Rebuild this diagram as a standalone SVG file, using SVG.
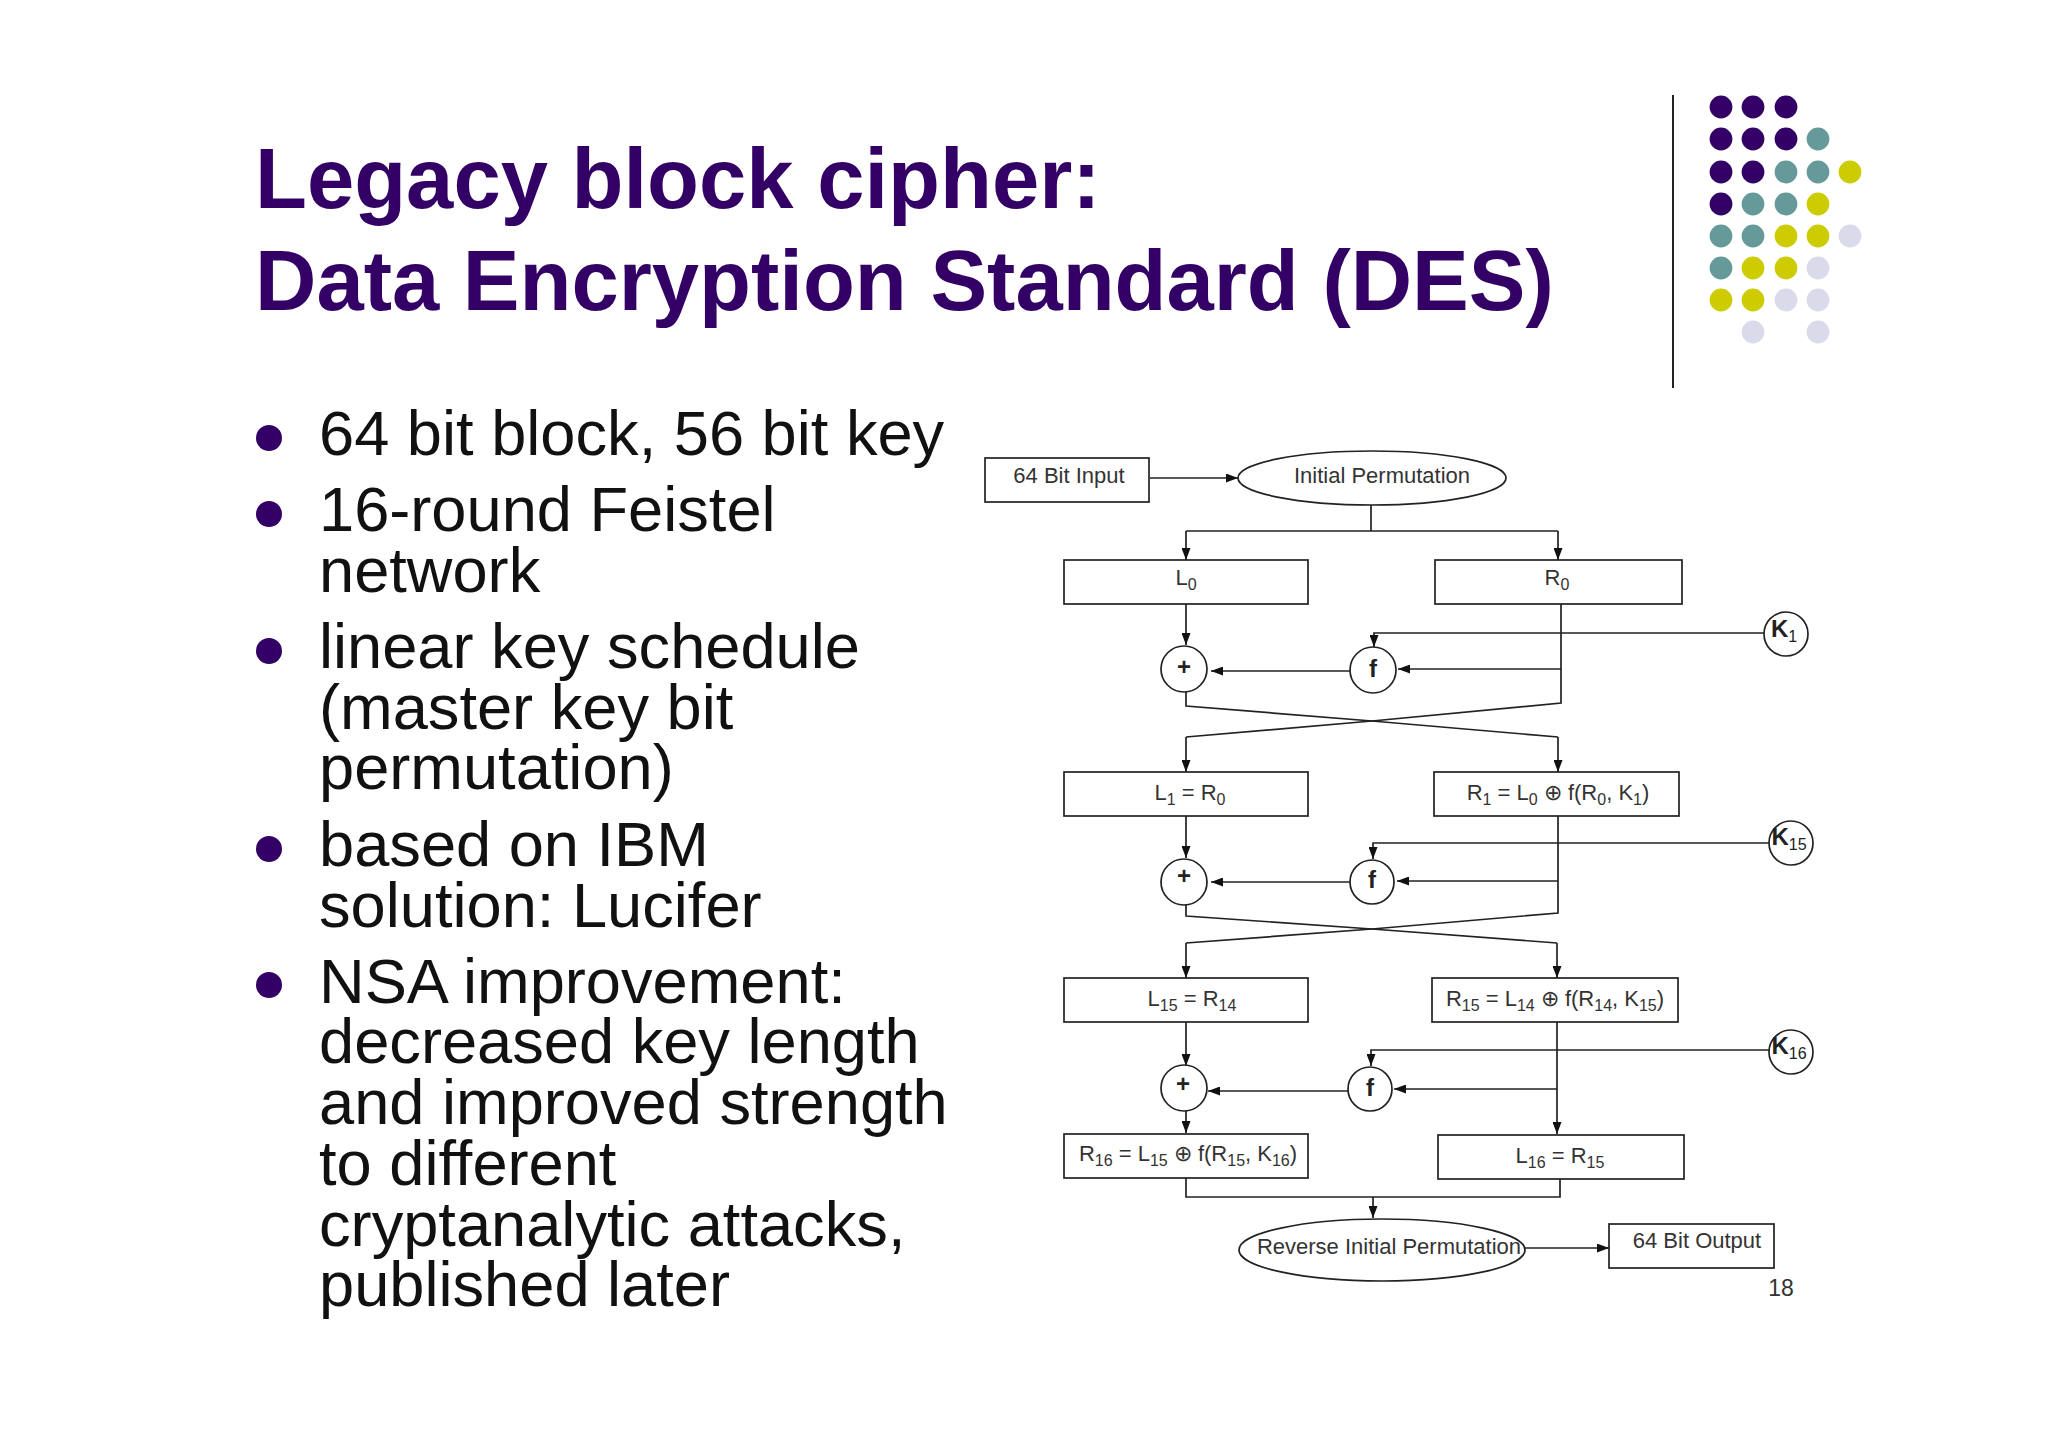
<svg xmlns="http://www.w3.org/2000/svg" width="2048" height="1447" viewBox="0 0 2048 1447">
<style>
.title{font:bold 85px "Liberation Sans",Arial,sans-serif;fill:#330066}
.body{font:63.2px "Liberation Sans",Arial,sans-serif;fill:#111}
.bul{fill:#330066}
.n{fill:#fff;stroke:#222;stroke-width:1.7}
.c{fill:none;stroke:#222;stroke-width:1.7}
.a{marker-end:url(#arr)}
.t{font:22px "Liberation Sans",Arial,sans-serif;fill:#333;text-anchor:middle}
.o{font:bold 24px "Liberation Sans",Arial,sans-serif;fill:#222;text-anchor:middle}
.s{font-size:16px;font-weight:normal}
.p{fill:#330066}.g{fill:#669999}.y{fill:#CCCC00}.l{fill:#DADAEA}
</style>
<defs>
<marker id="arr" viewBox="0 0 12 9" refX="12" refY="4.5" markerWidth="12" markerHeight="9" markerUnits="userSpaceOnUse" orient="auto"><path d="M0 0L12 4.5L0 9Z" fill="#111"/></marker>
</defs>
<rect width="2048" height="1447" fill="#fff"/>
<g id="title">
<text class="title" x="255" y="208">Legacy block cipher:</text>
<text class="title" x="255" y="310">Data Encryption Standard (DES)</text>
</g>
<g id="rule"><line x1="1673" y1="95" x2="1673" y2="388" stroke="#222" stroke-width="2"/></g>
<g id="dots">
<circle class="p" cx="1721" cy="107" r="11.4"/><circle class="p" cx="1753" cy="107" r="11.4"/><circle class="p" cx="1786" cy="107" r="11.4"/>
<circle class="p" cx="1721" cy="139" r="11.4"/><circle class="p" cx="1753" cy="139" r="11.4"/><circle class="p" cx="1786" cy="139" r="11.4"/><circle class="g" cx="1818" cy="139" r="11.4"/>
<circle class="p" cx="1721" cy="172" r="11.4"/><circle class="p" cx="1753" cy="172" r="11.4"/><circle class="g" cx="1786" cy="172" r="11.4"/><circle class="g" cx="1818" cy="172" r="11.4"/><circle class="y" cx="1850" cy="172" r="11.4"/>
<circle class="p" cx="1721" cy="204" r="11.4"/><circle class="g" cx="1753" cy="204" r="11.4"/><circle class="g" cx="1786" cy="204" r="11.4"/><circle class="y" cx="1818" cy="204" r="11.4"/>
<circle class="g" cx="1721" cy="236" r="11.4"/><circle class="g" cx="1753" cy="236" r="11.4"/><circle class="y" cx="1786" cy="236" r="11.4"/><circle class="y" cx="1818" cy="236" r="11.4"/><circle class="l" cx="1850" cy="236" r="11.4"/>
<circle class="g" cx="1721" cy="268" r="11.4"/><circle class="y" cx="1753" cy="268" r="11.4"/><circle class="y" cx="1786" cy="268" r="11.4"/><circle class="l" cx="1818" cy="268" r="11.4"/>
<circle class="y" cx="1721" cy="300" r="11.4"/><circle class="y" cx="1753" cy="300" r="11.4"/><circle class="l" cx="1786" cy="300" r="11.4"/><circle class="l" cx="1818" cy="300" r="11.4"/>
<circle class="l" cx="1753" cy="332" r="11.4"/><circle class="l" cx="1818" cy="332" r="11.4"/>
</g>
<g id="bullets">
<circle class="bul" cx="269" cy="438" r="13"/><circle class="bul" cx="269" cy="514" r="13"/><circle class="bul" cx="269" cy="651" r="13"/><circle class="bul" cx="269" cy="849" r="13"/><circle class="bul" cx="269" cy="985" r="13"/>
<text class="body" x="319" y="455">64 bit block, 56 bit key</text>
<text class="body" x="319" y="531">16-round Feistel</text>
<text class="body" x="319" y="592">network</text>
<text class="body" x="319" y="668">linear key schedule</text>
<text class="body" x="319" y="729">(master key bit</text>
<text class="body" x="319" y="789">permutation)</text>
<text class="body" x="319" y="866">based on IBM</text>
<text class="body" x="319" y="927">solution: Lucifer</text>
<text class="body" x="319" y="1003">NSA improvement:</text>
<text class="body" x="319" y="1063">decreased key length</text>
<text class="body" x="319" y="1124">and improved strength</text>
<text class="body" x="319" y="1185">to different</text>
<text class="body" x="319" y="1246">cryptanalytic attacks,</text>
<text class="body" x="319" y="1306">published later</text>
</g>
<g id="connectors">
<path class="c a" d="M1150 478H1238"/>
<path class="c" d="M1371 505V531M1186 531H1558"/>
<path class="c a" d="M1186 531V560"/><path class="c a" d="M1558 531V560"/>
<path class="c a" d="M1186 604V645"/>
<path class="c" d="M1561 604V703L1372 721L1186 737"/>
<path class="c a" d="M1186 737V772"/>
<path class="c" d="M1186 692V706L1372 721L1558 737"/>
<path class="c a" d="M1558 737V772"/>
<path class="c a" d="M1768 633H1374V647"/>
<path class="c a" d="M1561 669H1398"/>
<path class="c a" d="M1352 671H1211"/>
<path class="c a" d="M1186 816V858"/>
<path class="c" d="M1558 816V913L1372 929L1186 943"/>
<path class="c a" d="M1186 943V978"/>
<path class="c" d="M1186 904V916L1372 929L1557 943"/>
<path class="c a" d="M1557 943V978"/>
<path class="c a" d="M1771 843H1373V859"/>
<path class="c a" d="M1558 881H1397"/>
<path class="c a" d="M1352 882H1211"/>
<path class="c a" d="M1186 1022V1066"/>
<path class="c a" d="M1771 1050H1371V1066"/>
<path class="c a" d="M1557 1022V1134"/>
<path class="c a" d="M1557 1089H1394"/>
<path class="c a" d="M1349 1091H1208"/>
<path class="c a" d="M1186 1111V1133"/>
<path class="c" d="M1186 1177V1197H1560V1179"/>
<path class="c a" d="M1373 1197V1218"/>
<path class="c a" d="M1524 1248H1609"/>
</g>
<g id="input"><rect class="n" x="985" y="458" width="164" height="44"/><text class="t" x="1069" y="483">64 Bit Input</text></g>
<g id="ip"><ellipse class="n" cx="1372" cy="478" rx="134" ry="27"/><text class="t" x="1382" y="483">Initial Permutation</text></g>
<g id="l0"><rect class="n" x="1064" y="560" width="244" height="44"/><text class="t" x="1186" y="585">L<tspan class="s" dy="5">0</tspan></text></g>
<g id="r0"><rect class="n" x="1435" y="560" width="247" height="44"/><text class="t" x="1557" y="585">R<tspan class="s" dy="5">0</tspan></text></g>
<g id="xor1"><circle class="n" cx="1184" cy="669" r="23"/><text class="o" x="1184" y="675">+</text></g>
<g id="f1"><circle class="n" cx="1373" cy="670" r="23"/><text class="o" x="1373" y="677">f</text></g>
<g id="k1"><circle class="n" cx="1786" cy="634" r="22"/><text class="o" x="1784" y="637">K<tspan class="s" dy="5">1</tspan></text></g>
<g id="l1"><rect class="n" x="1064" y="772" width="244" height="44"/><text class="t" x="1190" y="800">L<tspan class="s" dy="5">1</tspan><tspan dy="-5"> = R</tspan><tspan class="s" dy="5">0</tspan></text></g>
<g id="r1"><rect class="n" x="1434" y="772" width="245" height="44"/><text class="t" x="1558" y="800">R<tspan class="s" dy="5">1</tspan><tspan dy="-5"> = L</tspan><tspan class="s" dy="5">0</tspan><tspan dy="-5"> ⊕ f(R</tspan><tspan class="s" dy="5">0</tspan><tspan dy="-5">, K</tspan><tspan class="s" dy="5">1</tspan><tspan dy="-5">)</tspan></text></g>
<g id="xor2"><circle class="n" cx="1184" cy="882" r="23"/><text class="o" x="1184" y="884">+</text></g>
<g id="f2"><circle class="n" cx="1372" cy="882" r="22"/><text class="o" x="1372" y="888">f</text></g>
<g id="k15"><circle class="n" cx="1791" cy="843" r="22"/><text class="o" x="1789" y="845">K<tspan class="s" dy="5">15</tspan></text></g>
<g id="l15"><rect class="n" x="1064" y="978" width="244" height="44"/><text class="t" x="1192" y="1006">L<tspan class="s" dy="5">15</tspan><tspan dy="-5"> = R</tspan><tspan class="s" dy="5">14</tspan></text></g>
<g id="r15"><rect class="n" x="1432" y="978" width="246" height="44"/><text class="t" x="1555" y="1006">R<tspan class="s" dy="5">15</tspan><tspan dy="-5"> = L</tspan><tspan class="s" dy="5">14</tspan><tspan dy="-5"> ⊕ f(R</tspan><tspan class="s" dy="5">14</tspan><tspan dy="-5">, K</tspan><tspan class="s" dy="5">15</tspan><tspan dy="-5">)</tspan></text></g>
<g id="xor3"><circle class="n" cx="1184" cy="1088" r="23"/><text class="o" x="1183" y="1092">+</text></g>
<g id="f3"><circle class="n" cx="1370" cy="1089" r="22"/><text class="o" x="1370" y="1096">f</text></g>
<g id="k16"><circle class="n" cx="1791" cy="1052" r="22"/><text class="o" x="1789" y="1054">K<tspan class="s" dy="5">16</tspan></text></g>
<g id="r16"><rect class="n" x="1064" y="1134" width="244" height="44"/><text class="t" x="1188" y="1161">R<tspan class="s" dy="5">16</tspan><tspan dy="-5"> = L</tspan><tspan class="s" dy="5">15</tspan><tspan dy="-5"> ⊕ f(R</tspan><tspan class="s" dy="5">15</tspan><tspan dy="-5">, K</tspan><tspan class="s" dy="5">16</tspan><tspan dy="-5">)</tspan></text></g>
<g id="l16"><rect class="n" x="1438" y="1135" width="246" height="44"/><text class="t" x="1560" y="1163">L<tspan class="s" dy="5">16</tspan><tspan dy="-5"> = R</tspan><tspan class="s" dy="5">15</tspan></text></g>
<g id="rip"><ellipse class="n" cx="1382" cy="1250" rx="143" ry="31"/><text class="t" x="1389" y="1254">Reverse Initial Permutation</text></g>
<g id="output"><rect class="n" x="1609" y="1224" width="165" height="44"/><text class="t" x="1697" y="1248">64 Bit Output</text></g>
<g id="page"><text class="t" x="1781" y="1296" style="font-size:23px">18</text></g>
</svg>
